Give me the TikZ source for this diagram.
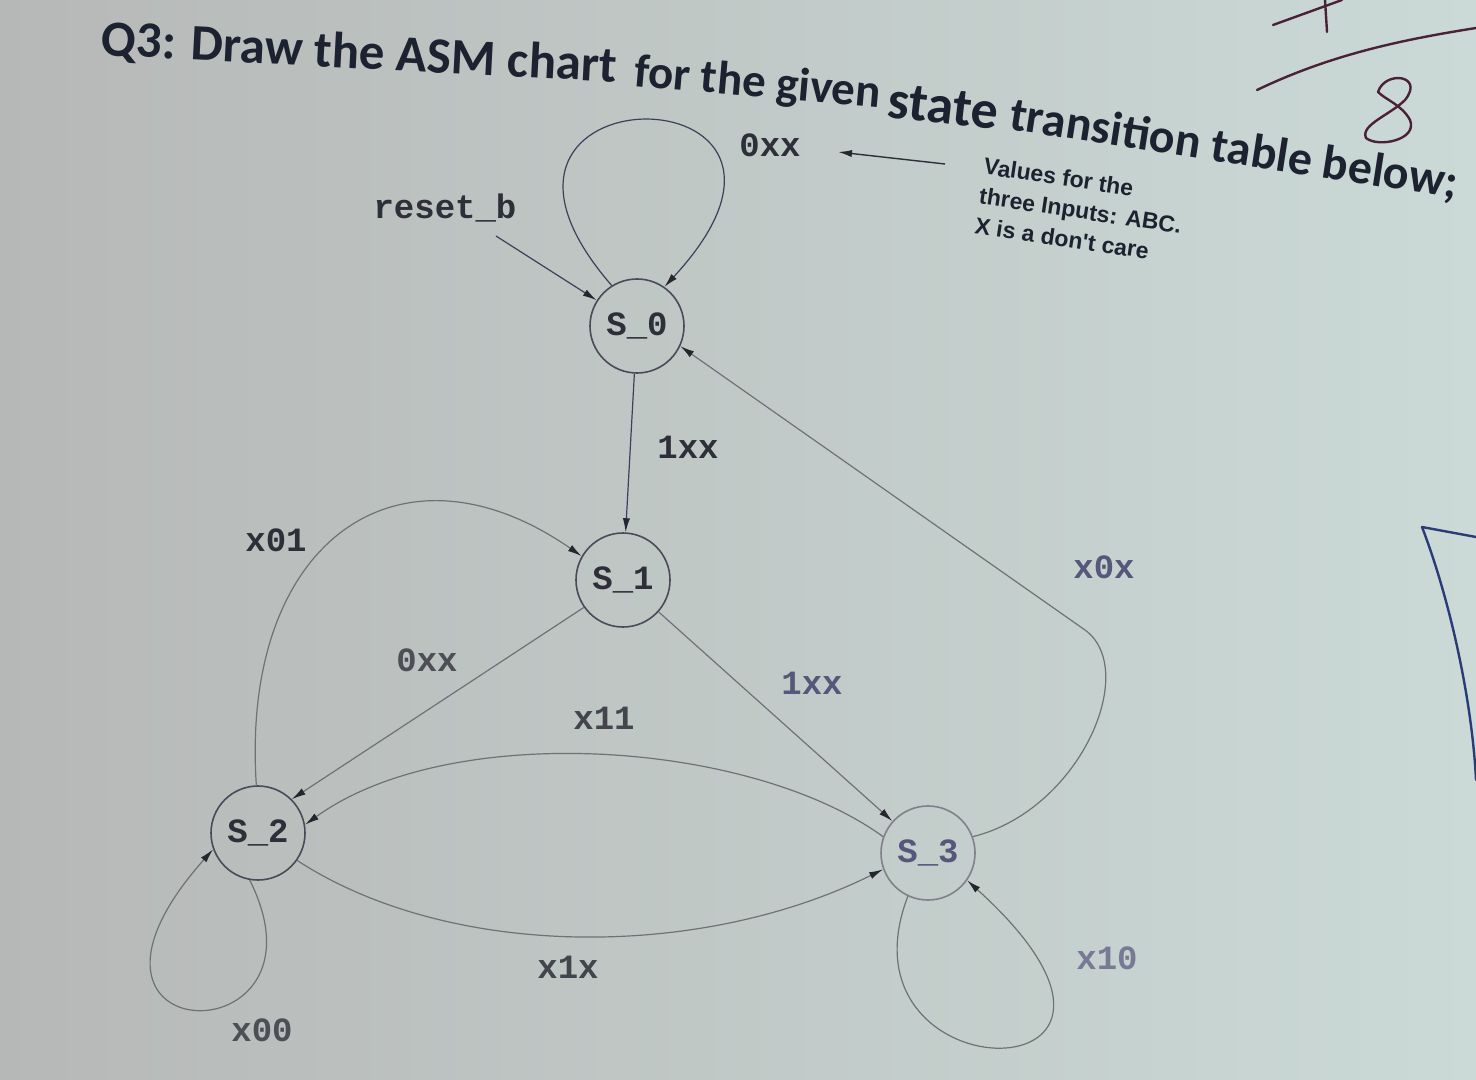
\documentclass[tikz,border=0pt]{standalone}
\usepackage{fontspec}
\setmainfont{Carlito}
\newfontfamily\monof{Liberation Mono}
\newfontfamily\notef{Liberation Sans}
\usetikzlibrary{arrows.meta}
\definecolor{bgL}{HTML}{B6B8B7}
\definecolor{bgR}{HTML}{CBDAD7}
\definecolor{titlecol}{HTML}{1C2230}
\definecolor{stcol}{HTML}{4A4B58}
\definecolor{edgedark}{HTML}{3C4058}
\definecolor{edgecol}{HTML}{6E7275}
\definecolor{arrowcol}{HTML}{25262E}
\definecolor{txtcol}{HTML}{2E2F38}
\definecolor{fadecol}{HTML}{55587A}
\definecolor{penred}{HTML}{4A2238}
\definecolor{penblue}{HTML}{2A3C78}
\begin{document}
\begin{tikzpicture}[x=0.5pt,y=-0.5pt,
  state/.style={circle, draw=stcol, line width=0.8pt, minimum size=47pt, inner sep=0pt,
    font=\monof\bfseries\fontsize{17}{20}\selectfont, text=txtcol},
  lbl/.style={font=\monof\bfseries\fontsize{17}{20}\selectfont, inner sep=1pt, text=txtcol},
  edge/.style={draw=edgecol, line width=0.6pt, -{Latex[length=7pt,width=3.6pt,color=arrowcol]}},
  edgeD/.style={edge, draw=edgedark},
  titletext/.style={text=titlecol, inner sep=0pt, anchor=base west},
  pen/.style={draw=penred, line width=1.2pt, line cap=round, line join=round},
  bluepen/.style={draw=penblue, line width=1.2pt, line cap=round, line join=round}
]
\useasboundingbox (0,0) rectangle (1476,1080);
\shade[left color=bgL, right color=bgR] (0,0) rectangle (1476,1080);

% title
\node[titletext, font=\bfseries\fontsize{25.5}{30}\selectfont, rotate=-3] (t1) at (100,55) {Q3: Draw the ASM chart};
\node[titletext, font=\bfseries\fontsize{23.5}{30}\selectfont, rotate=-5] (t2) at (633,86) {for the given};
\node[titletext, font=\bfseries\fontsize{27}{30}\selectfont, rotate=-6.5] (t3) at (886,117) {state};
\node[titletext, font=\bfseries\fontsize{24}{30}\selectfont, rotate=-8.8] (t4) at (1008,129) {transition table below;};

% handwritten mark
\draw[pen] (1273,25) -- (1342,0);
\draw[pen] (1325,0) -- (1327,32);
\draw[pen] (1257,90) .. controls (1330,55) and (1400,40) .. (1476,28);
\draw[pen] (1378,92) .. controls (1385,70) and (1425,75) .. (1405,100)
  .. controls (1390,115) and (1360,125) .. (1366,138)
  .. controls (1378,148) and (1418,140) .. (1410,120)
  .. controls (1402,105) and (1386,100) .. (1378,92);
\draw[bluepen] (1476,537) -- (1422,527) .. controls (1450,600) and (1472,700) .. (1476,780);

% states
\node[state] (s0) at (637,326) {S\_0};
\node[state] (s1) at (623,580) {S\_1};
\node[state] (s2) at (258,833) {S\_2};
\node[state, draw=stcol!70, text=fadecol] (s3) at (928,853) {S\_3};

% reset
\node[lbl] (rst) at (445,208) {reset\_b};
\coordinate (rstend) at (496,236);
\draw[edgeD] (rstend) -- (s0);

% S_0 loop
\draw[edgeD] (s0.122) .. controls (420,65) and (870,65) .. (s0.55);
\node[lbl] (l0) at (770,145) {0xx};

% note
\node[font=\notef\bfseries\fontsize{11.5}{15}\selectfont, text=titlecol, align=left,
  anchor=north west, inner sep=0pt, rotate=-8.5] (note) at (985,157)
  {Values for the\\three Inputs: ABC.\\X is a don't care};
\coordinate (na) at (945,164);
\coordinate (nb) at (838,152);
\draw[draw=txtcol, line width=0.7pt, -{Latex[length=7pt,width=3.6pt,color=arrowcol]}] (na) -- (nb);

% S_0 -> S_1
\draw[edgeD] (s0) -- (s1);
\node[lbl] (l1) at (688,447) {1xx};

% S_3 -> S_0
\coordinate (bend) at (1085,630);
\draw[edge] (s3.20) .. controls (1080,810) and (1140,670) .. (bend) -- (s0.-25);
\node[lbl, text=fadecol] (l2) at (1104,567) {x0x};

% S_2 -> S_1
\draw[edge] (s2.92) .. controls (240,540) and (400,430) .. (s1.150);
\node[lbl] (l3) at (276,540) {x01};

% S_1 -> S_2
\draw[edge] (s1.215) -- (s2.45);
\node[lbl, text=txtcol!85] (l4) at (427,660) {0xx};

% S_1 -> S_3
\draw[edge] (s1) -- (s3);
\node[lbl, text=fadecol] (l5) at (812,683) {1xx};

% S_3 -> S_2
\draw[edge] (s3.160) .. controls (750,740) and (450,720) .. (s2.10);
\node[lbl, text=txtcol!90] (l6) at (604,718) {x11};

% S_2 -> S_3
\draw[edge] (s2.-35) .. controls (450,960) and (700,960) .. (s3.200);
\node[lbl, text=txtcol!90] (l7) at (568,967) {x1x};

% S_2 loop
\draw[edge] (s2.-100) .. controls (340,1060) and (30,1055) .. (s2.200);
\node[lbl, text=txtcol!85] (l8) at (262,1030) {x00};

% S_3 loop
\draw[edge] (s3.-115) .. controls (830,1100) and (1210,1100) .. (s3.-35);
\node[lbl, text=fadecol!80] (l9) at (1107,958) {x10};
\end{tikzpicture}
\end{document}
